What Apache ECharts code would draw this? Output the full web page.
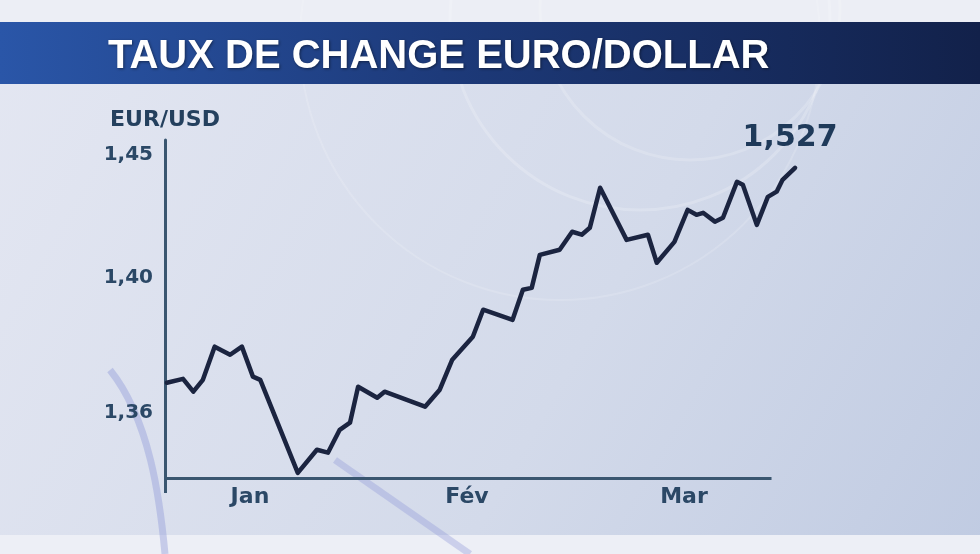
<!DOCTYPE html>
<html>
<head>
<meta charset="utf-8">
<script src="https://cdn.jsdelivr.net/npm/echarts@6/dist/echarts.min.js"></script>
<style>
  html, body { margin: 0; padding: 0; }
  #chart { width: 980px; height: 554px; }
</style>
</head>
<body>
<div id="chart"></div>
<script>
// données (jour de l'année, cours)
var days = [4.7, 6.9, 8.3, 9.6, 11.2, 13.3, 14.9, 16.4, 17.4, 22.5, 25.1, 26.6, 28.2, 29.6, 30.7,
    33.3, 34.3, 39.8, 41.8, 43.5, 46.3, 47.7, 51.7, 53.1, 54.3, 55.4, 58.1, 59.8, 61.1, 62.2,
    63.6, 67.2, 70.1, 71.3, 73.7, 75.5, 76.7, 77.6, 79.2, 80.3, 82.2, 83.0, 84.9, 86.4, 87.6, 88.4, 90.1];
var rates = [1.3573, 1.3589, 1.3537, 1.3585, 1.3720, 1.3687, 1.3720, 1.3598, 1.3585, 1.3207, 1.3301, 1.3289, 1.3382, 1.3411, 1.3557,
    1.3512, 1.3537, 1.3476, 1.3545, 1.3667, 1.3760, 1.3870, 1.3829, 1.3951, 1.3959, 1.4093, 1.4114, 1.4187, 1.4175, 1.4203,
    1.4366, 1.4154, 1.4175, 1.4061, 1.4146, 1.4276, 1.4256, 1.4264, 1.4228, 1.4244, 1.4390, 1.4378, 1.4215, 1.4329, 1.4350, 1.4398, 1.4447];
var monthDays = [16, 45.5, 75];
var monthLabels = ['Jan', 'Fév', 'Mar'];
var yTickValues = [1.345, 1.40, 1.45];
var yTickLabels = ['1,36', '1,40', '1,45'];
var lastLabel = '1,527';

var xMin = 4.45, xAxisEnd = 86.9, xMax = 90.5;
var yMin = 1.3186, yMax = 1.456;

var seriesData = days.map(function (d, i) {
    return [d, rates[i]];
});

var myChart = echarts.init(document.getElementById('chart'));
var axisColor = '#3a5670';
var labelColor = '#2b4866';

var option = {
    animation: false,
    backgroundColor: {
        type: 'linear', x: 0, y: 0, x2: 1, y2: 1,
        colorStops: [
            { offset: 0, color: '#e4e7f2' },
            { offset: 0.6, color: '#d3daea' },
            { offset: 1, color: '#c0cbe2' }
        ]
    },
    title: {
        text: 'TAUX DE CHANGE EURO/DOLLAR',
        left: 103,
        top: 31,
        textStyle: {
            fontFamily: 'Liberation Sans, Arial, sans-serif',
            fontWeight: 'bold',
            fontSize: 40,
            lineHeight: 42,
            color: '#ffffff',
            textShadowColor: 'rgba(0,0,0,0.45)',
            textShadowBlur: 3,
            textShadowOffsetX: 1,
            textShadowOffsetY: 1
        }
    },
    graphic: [
        { type: 'rect', z: -10, shape: { x: 0, y: 0, width: 980, height: 22 }, style: { fill: '#eceef5' } },
        { type: 'rect', z: -10, shape: { x: 0, y: 535, width: 980, height: 19 }, style: { fill: '#edeff6' } },
        { type: 'rect', z: -5, shape: { x: 0, y: 22, width: 980, height: 62 },
          style: { fill: { type: 'linear', x: 0, y: 0, x2: 1, y2: 0,
              colorStops: [{ offset: 0, color: '#2a56a8' }, { offset: 0.45, color: '#1d3a7a' }, { offset: 1, color: '#12214a' }] } } },
        // décor en arrière-plan
        { type: 'circle', z: -8, shape: { cx: 640, cy: 20, r: 190 }, style: { fill: 'none', stroke: 'rgba(255,255,255,0.2)', lineWidth: 3 } },
        { type: 'circle', z: -8, shape: { cx: 690, cy: 10, r: 150 }, style: { fill: 'none', stroke: 'rgba(255,255,255,0.18)', lineWidth: 3 } },
        { type: 'circle', z: -8, shape: { cx: 560, cy: 40, r: 260 }, style: { fill: 'none', stroke: 'rgba(255,255,255,0.15)', lineWidth: 2 } },
        { type: 'bezierCurve', z: -8, shape: { x1: 110, y1: 370, x2: 165, y2: 554, cpx1: 150, cpy1: 420, cpx2: 160, cpy2: 500 },
          style: { fill: 'none', stroke: 'rgba(140,150,215,0.4)', lineWidth: 7 } },
        { type: 'line', z: -8, shape: { x1: 335, y1: 460, x2: 470, y2: 554 },
          style: { stroke: 'rgba(140,150,215,0.35)', lineWidth: 7 } }
    ],
    grid: {
        left: 165,
        right: 182,
        top: 140,
        bottom: 76
    },
    xAxis: {
        type: 'value',
        min: xMin,
        max: xMax,
        splitLine: { show: false },
        axisLine: { show: false },
        axisTick: {
            show: true,
            customValues: [xMin],
            length: 15,
            inside: false,
            lineStyle: { color: axisColor, width: 3 }
        },
        axisLabel: {
            customValues: monthDays,
            formatter: function (v) {
                var i = monthDays.indexOf(v);
                return i >= 0 ? monthLabels[i] : '';
            },
            margin: 8,
            fontFamily: 'DejaVu Sans',
            fontWeight: 'bold',
            fontSize: 22,
            color: labelColor
        }
    },
    yAxis: {
        type: 'value',
        min: yMin,
        max: yMax,
        name: 'EUR/USD',
        nameLocation: 'end',
        nameGap: 9,
        nameTextStyle: {
            fontFamily: 'DejaVu Sans',
            fontWeight: 'bold',
            fontSize: 22,
            color: '#24405e'
        },
        splitLine: { show: false },
        axisLine: { show: true, lineStyle: { color: axisColor, width: 3 } },
        axisTick: { show: false },
        axisLabel: {
            customValues: yTickValues,
            formatter: function (v) {
                var i = yTickValues.indexOf(v);
                return i >= 0 ? yTickLabels[i] : '';
            },
            margin: 12,
            fontFamily: 'DejaVu Sans',
            fontWeight: 'bold',
            fontSize: 20,
            color: labelColor
        }
    },
    series: [
        {
            name: 'EUR/USD',
            type: 'line',
            data: seriesData,
            showSymbol: false,
            symbol: 'none',
            z: 3,
            lineStyle: { color: '#1b2440', width: 4.5, join: 'round', cap: 'round' },
            endLabel: {
                show: true,
                formatter: lastLabel,
                distance: 0,
                align: 'center',
                verticalAlign: 'middle',
                offset: [-5, -30],
                fontFamily: 'DejaVu Sans',
                fontWeight: 'bold',
                fontSize: 30,
                color: '#1f3a5a'
            },
            // ligne de l'axe des x, plus courte que la courbe
            markLine: {
                silent: true,
                symbol: 'none',
                label: { show: false },
                lineStyle: { color: axisColor, width: 3, type: 'solid' },
                data: [[{ coord: [xMin, yMin] }, { coord: [xAxisEnd, yMin] }]]
            }
        }
    ]
};
myChart.setOption(option);
</script>
</body>
</html>
